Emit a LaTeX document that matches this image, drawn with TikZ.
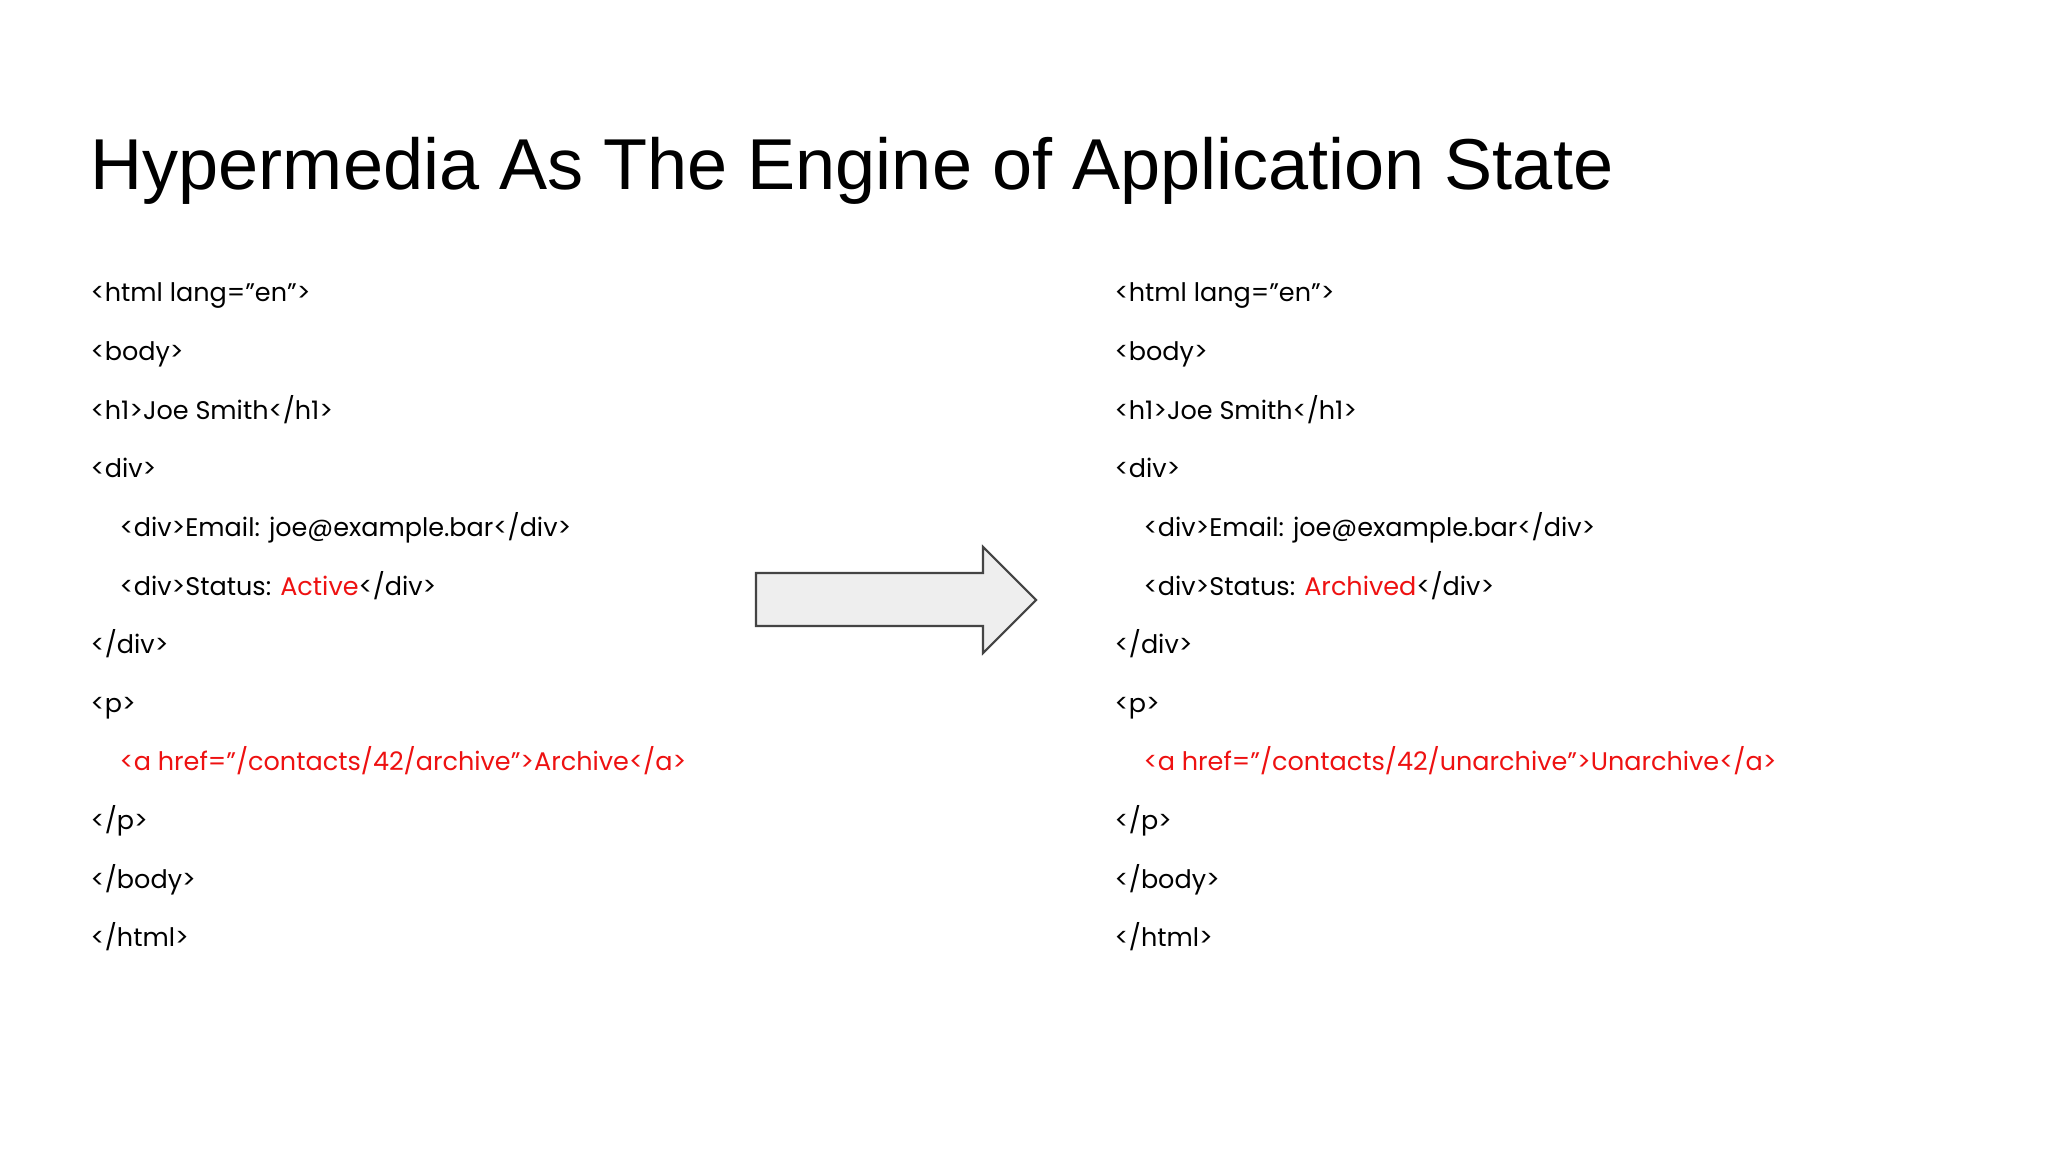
\documentclass[tikz,border=0pt]{standalone}
\usepackage{fontspec}
\setmainfont{Poppins}
\newfontfamily\titlefont{Liberation Sans}
\definecolor{codered}{HTML}{EE1111}
\definecolor{arrowfill}{HTML}{EEEEEE}
\definecolor{arrowline}{HTML}{444444}
\begin{document}
\begin{tikzpicture}[x=0.01cm,y=-0.01cm,
  codeline/.style={anchor=base west,inner sep=0pt,font=\fontsize{7.25}{9}\selectfont},
  red/.style={text=codered}]
\useasboundingbox[fill=white] (0,0) rectangle (2048,1152);
\node[anchor=base west,inner sep=0pt,font=\titlefont\fontsize{20.5}{25}\selectfont] (title) at (90,190) {Hypermedia As The Engine of Application State};
\foreach \x/\i/\s in {90/119/l,1114/1143/r}{
\node[codeline] (\s1) at (\x,302) {<html lang="en">};
\node[codeline] (\s2) at (\x,360.6) {<body>};
\node[codeline] (\s3) at (\x,419.2) {<h1>Joe Smith</h1>};
\node[codeline] (\s4) at (\x,477.8) {<div>};
\node[codeline] (\s5) at (\i,536.4) {<div>Email: joe@example.bar</div>};
\node[codeline] (\s7) at (\x,653.6) {</div>};
\node[codeline] (\s8) at (\x,712.2) {<p>};
\node[codeline] (\s10) at (\x,829.4) {</p>};
\node[codeline] (\s11) at (\x,888) {</body>};
\node[codeline] (\s12) at (\x,946.6) {</html>};
}
\node[codeline] (l6) at (119,595) {<div>Status: \textcolor{codered}{Active}</div>};
\node[codeline] (r6) at (1143,595) {<div>Status: \textcolor{codered}{Archived}</div>};
\node[codeline,red] (l9) at (119,770.8) {<a href="/contacts/42/archive">Archive</a>};
\node[codeline,red] (r9) at (1143,770.8) {<a href="/contacts/42/unarchive">Unarchive</a>};
\draw[fill=arrowfill,draw=arrowline,line width=0.6pt,line join=miter]
 (756,573) -- (983,573) -- (983,547) -- (1036,600) -- (983,653) -- (983,626) -- (756,626) -- cycle;
\end{tikzpicture}
\end{document}
